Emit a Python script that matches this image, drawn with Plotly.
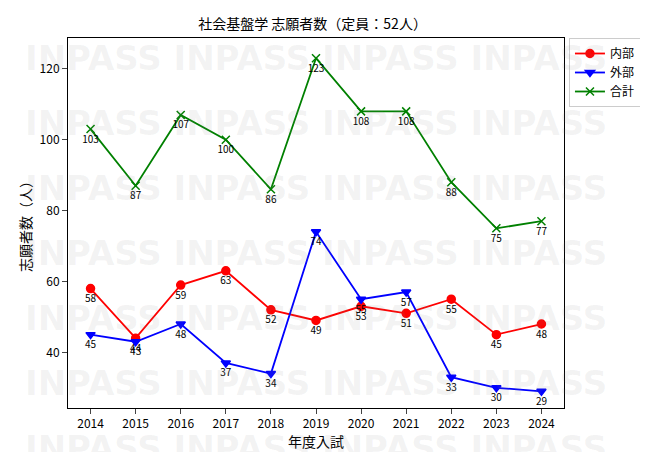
import plotly.graph_objects as go

years = [2014, 2015, 2016, 2017, 2018, 2019, 2020, 2021, 2022, 2023, 2024]
naibu = [58, 44, 59, 63, 52, 49, 53, 51, 55, 45, 48]
gaibu = [45, 43, 48, 37, 34, 74, 55, 57, 33, 30, 29]
total = [103, 87, 107, 100, 86, 123, 108, 108, 88, 75, 77]

font = "Noto Sans CJK JP"
fig = go.Figure()
for name, vals, color, sym in [("内部", naibu, "red", "circle"),
                               ("外部", gaibu, "blue", "triangle-down"),
                               ("合計", total, "green", "x-thin")]:
    fig.add_trace(go.Scatter(
        x=years, y=vals, name=name, mode="lines+markers+text",
        line=dict(color=color, width=1.8),
        marker=dict(color=color, symbol=sym, size=8, line=dict(color=color, width=1.5)),
        text=[str(v) for v in vals], textposition="bottom center",
        textfont=dict(size=10, color="black", family=font)))

# watermark
for i in range(7):
    y = 50 + i * 65
    fig.add_annotation(xref="paper", yref="paper", x=0.5, y=1 - (y - 30) / 370.0, showarrow=False,
                       text="<b>INPASS INPASS INPASS INPASS</b>",
                       font=dict(size=34, color="rgba(128,128,128,0.10)", family="DejaVu Sans"),
                       xanchor="center", yanchor="middle")

fig.update_layout(
    width=648, height=452, plot_bgcolor="white", paper_bgcolor="white",
    margin=dict(l=60, r=92, t=30, b=52, autoexpand=False),
    font=dict(family=font, size=12, color="black"),
    title=dict(text="社会基盤学 志願者数（定員：52人）", x=0.47, xanchor="center", y=0.975, font=dict(size=14)),
    xaxis=dict(title=dict(text="年度入試", standoff=6), tickmode="array", tickvals=years,
               range=[2013.5, 2024.5], showline=True, mirror=True, linecolor="black",
               ticks="outside", showgrid=False, zeroline=False, automargin=False),
    yaxis=dict(title=dict(text="志願者数（人）", standoff=4), range=[24.3, 128.7],
               tickvals=[40, 60, 80, 100, 120], showline=True, mirror=True, linecolor="black",
               ticks="outside", showgrid=False, zeroline=False, automargin=False),
    legend=dict(x=1.01, y=1, xanchor="left", yanchor="top", bordercolor="#ccc", borderwidth=1),
)
fig.write_html("out.html")
